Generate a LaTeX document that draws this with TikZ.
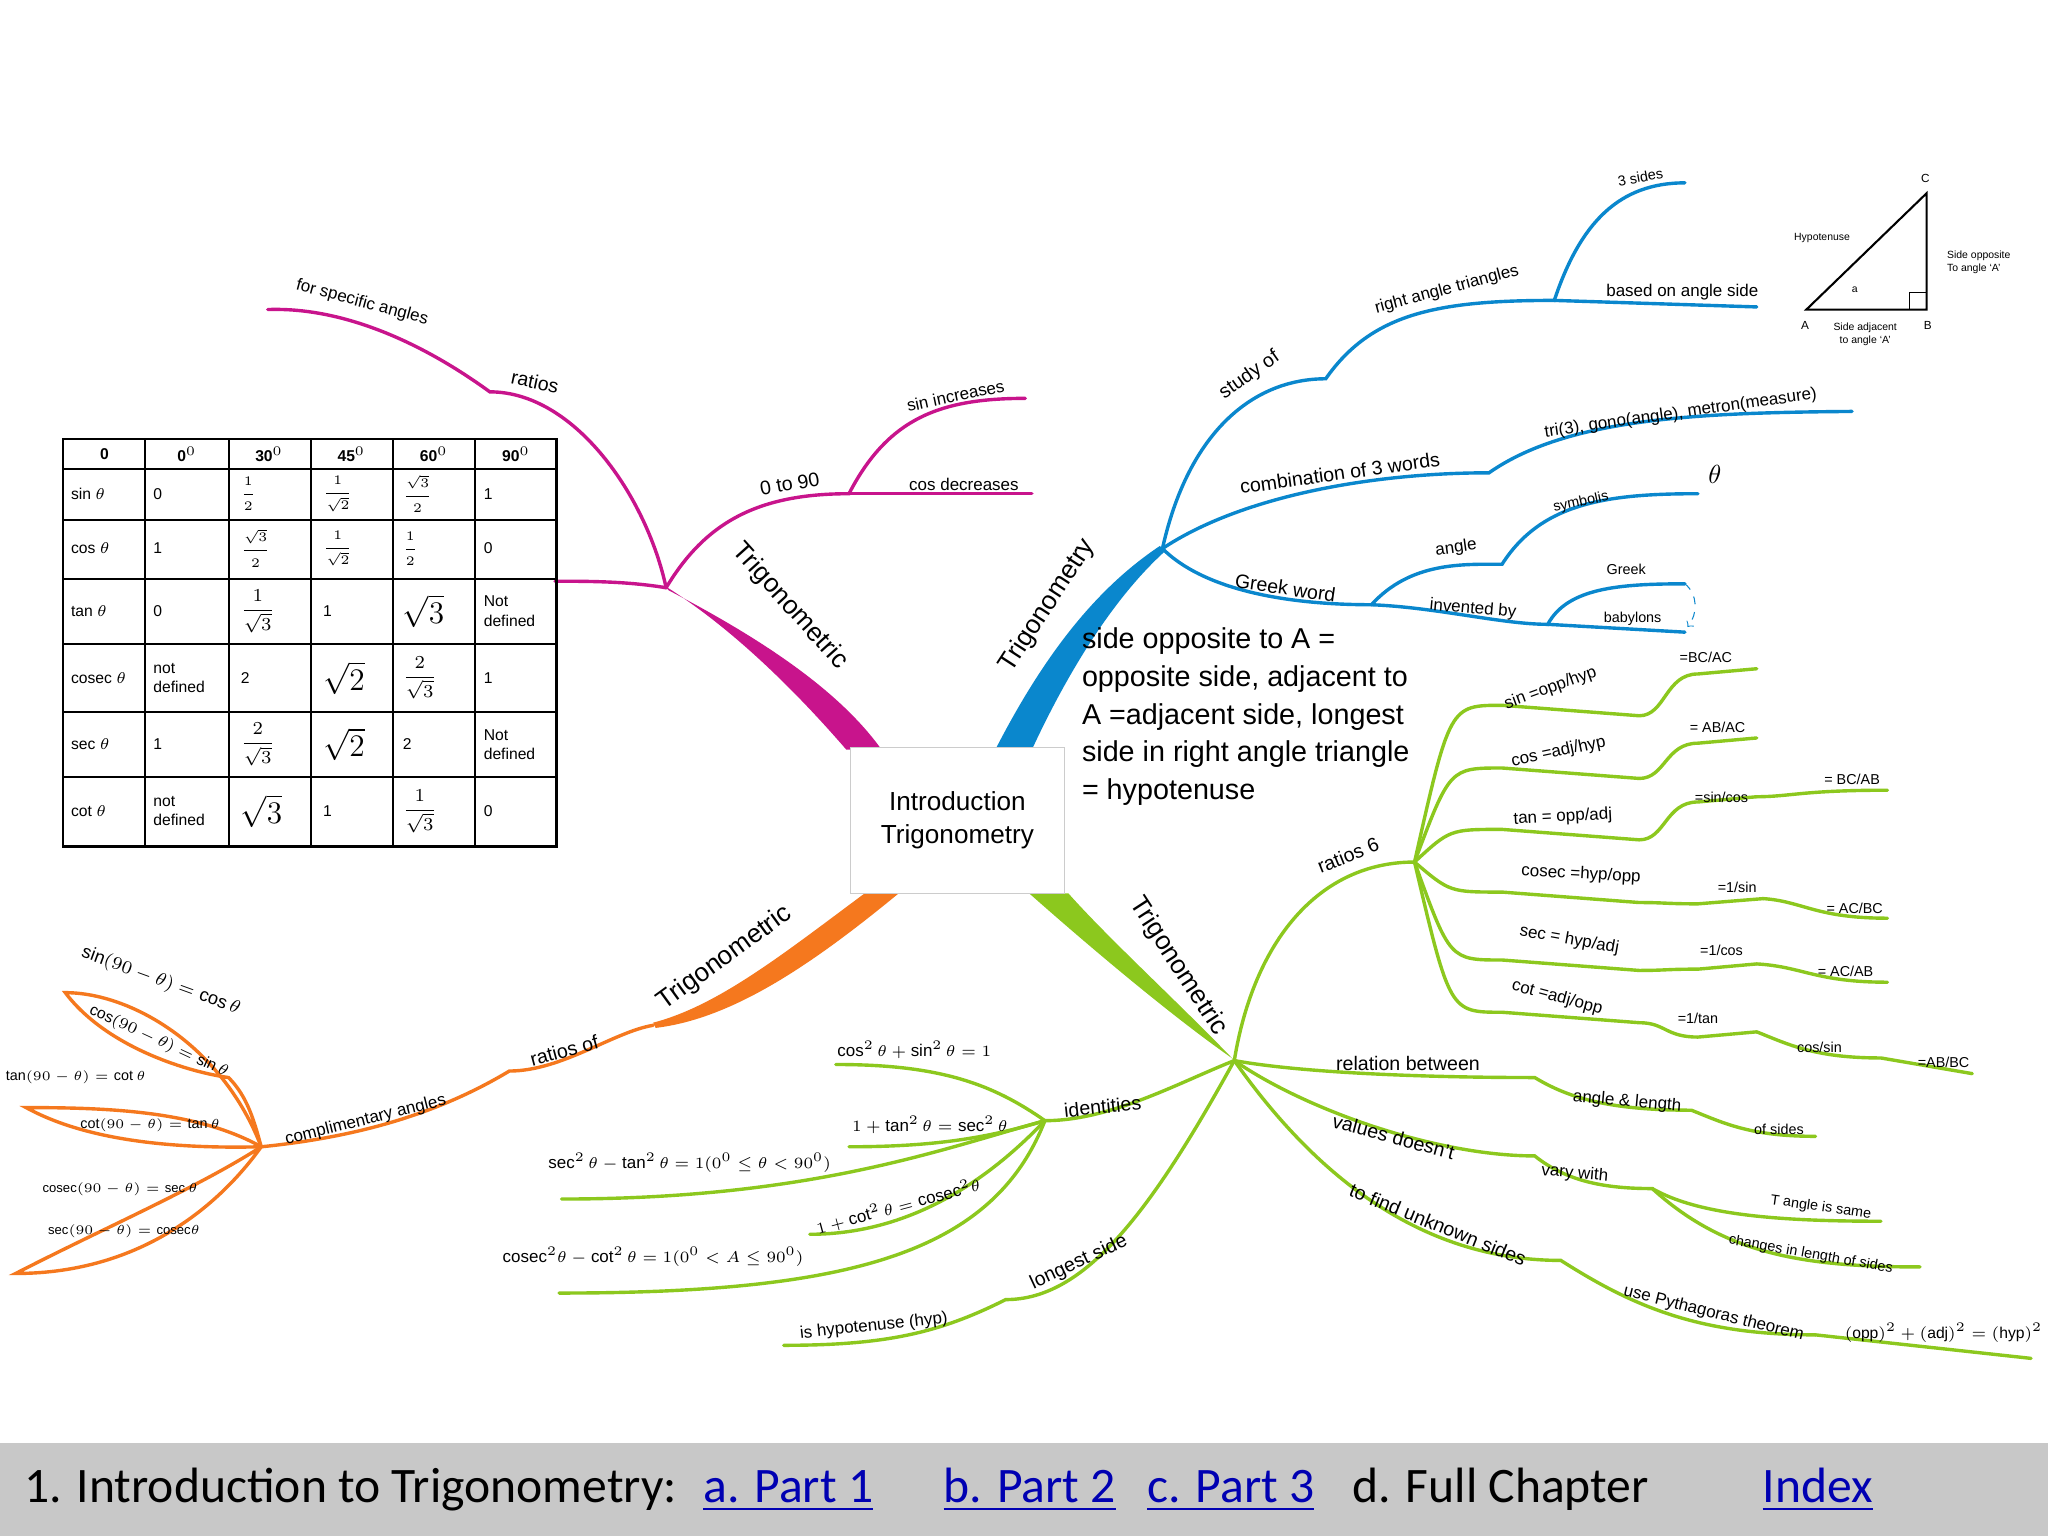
\documentclass[tikz,border=0pt]{standalone}
\usepackage{fontspec}
\setmainfont{Liberation Sans}
\newfontfamily\foot{Carlito}
\usepackage{amsmath}
\begin{document}
\begin{tikzpicture}[x=0.5pt,y=-0.5pt,
  lb/.style={font=\fontsize{7.5}{9}\selectfont,inner sep=1pt,anchor=south},
  sm/.style={font=\fontsize{5.5}{6.5}\selectfont,inner sep=1pt,anchor=south},
  tb/.style={font=\fontsize{6}{7}\selectfont,inner sep=1pt,anchor=west},
  br/.style={line width=1.3pt,line cap=round},
  lk/.style={text=blue!70!black}]
\definecolor{mag}{RGB}{200,20,140}
\definecolor{blu}{RGB}{10,135,205}
\definecolor{grn}{RGB}{140,200,30}
\definecolor{org}{RGB}{245,120,30}
\definecolor{gry}{RGB}{200,200,200}
\useasboundingbox (0,0) rectangle (1568,1176);
\fill[white] (0,0) rectangle (1568,1176);
\fill[gry] (0,1105) rectangle (1568,1176);
% ---------- magenta
\coordinate (M) at (510,450);
\fill[mag] (648,574) .. controls (610,530) and (560,480) .. (508,448) -- (512,452) .. controls (575,485) and (640,525) .. (675,574) -- cycle;
\node[lb,rotate=-48,font=\fontsize{10}{12}\selectfont] at (596,472) {Trigonometric};
\draw[br,mag] (M) .. controls (495,380) and (440,300) .. (375,300) .. controls (320,260) and (260,235) .. (205,237);
\node[lb,rotate=-12] (rat) at (408,300) {ratios};
\node[sm,rotate=-15,font=\fontsize{6.5}{8}\selectfont] (fsa) at (275,240) {for specific angles};
\draw[br,mag] (M) .. controls (540,400) and (580,378) .. (650,378) .. controls (680,320) and (720,305) .. (785,305);
\draw[br,mag] (650,378) -- (790,378);
\node[lb,rotate=10] at (606,378) {0 to 90};
\node[sm,rotate=12,font=\fontsize{6.5}{8}\selectfont] at (733,310) {sin increases};
\node[sm,font=\fontsize{6.5}{8}\selectfont] at (738,378) {cos decreases};
\draw[br,mag] (M) .. controls (480,445) and (450,445) .. (425,445);
% ---------- table
\draw[line width=0.9pt] (48,336) rectangle (426,648);
\foreach \x in {111,175,238,301,364} \draw[line width=0.8pt] (\x,336) -- (\x,648);
\foreach \y in {359,398,443,493,545,595} \draw[line width=0.8pt] (48,\y) -- (426,\y);
\foreach \c/\t in {80/0,143/0$^0$,206/30$^0$,269/45$^0$,332/60$^0$,395/90$^0$}
  \node[font=\fontsize{6}{7}\selectfont\bfseries] at (\c,348) {\t};
\def\fr#1#2{{\fontsize{5}{6}\selectfont$\dfrac{#1}{#2}$}}
\def\Fr#1#2{{\fontsize{7}{8}\selectfont$\dfrac{#1}{#2}$}}
\foreach \r/\a/\b/\c/\d/\e/\f in {
  378/sin $\theta$/0/\fr{1}{2}/\fr{1}{\sqrt2}/\fr{\sqrt3}{2}/1,
  420/cos $\theta$/1/\fr{\sqrt3}{2}/\fr{1}{\sqrt2}/\fr{1}{2}/0,
  468/tan $\theta$/0/\Fr{1}{\sqrt3}/1/{\large$\sqrt3$}/{\shortstack[l]{Not\\defined}},
  519/cosec $\theta$/{\shortstack[l]{not\\defined}}/2/{\large$\sqrt2$}/\Fr{2}{\sqrt3}/1,
  570/sec $\theta$/1/\Fr{2}{\sqrt3}/{\large$\sqrt2$}/2/{\shortstack[l]{Not\\defined}},
  621/cot $\theta$/{\shortstack[l]{not\\defined}}/{\large$\sqrt3$}/1/\Fr{1}{\sqrt3}/0}{
  \node[tb] at (52,\r) {\a};
  \node[tb] at (115,\r) {\b};
  \node[tb] at (182,\r) {\c};
  \node[tb] at (245,\r) {\d};
  \node[tb] at (306,\r) {\e};
  \node[tb] at (368,\r) {\f};
}
% ---------- blue
\coordinate (B) at (890,420);
\fill[blu] (762,574) .. controls (800,500) and (840,450) .. (888,418) -- (892,422) .. controls (850,460) and (815,520) .. (790,574) -- cycle;
\node[lb,rotate=57,font=\fontsize{10}{12}\selectfont] at (812,470) {Trigonometry};
\draw[br,blu] (B) .. controls (910,330) and (960,290) .. (1015,290) .. controls (1050,240) and (1100,230) .. (1190,230) .. controls (1210,170) and (1240,140) .. (1290,140);
\draw[br,blu] (1190,230) -- (1345,235);
\node[lb,rotate=35] at (962,295) {study of};
\node[sm,rotate=15,font=\fontsize{6.5}{8}\selectfont] at (1110,230) {right angle triangles};
\node[sm,rotate=10] at (1257,142) {3 sides};
\node[sm,font=\fontsize{6.5}{8}\selectfont] at (1288,232) {based on angle side};
\draw[br,blu] (B) .. controls (950,380) and (1050,362) .. (1140,362) .. controls (1200,320) and (1300,316) .. (1418,315);
\node[lb,rotate=8] at (1027,370) {combination of 3 words};
\node[sm,rotate=8,font=\fontsize{6.5}{8}\selectfont] at (1288,325) {tri(3), gono(angle), metron(measure)};
\draw[br,blu] (B) .. controls (920,450) and (980,463) .. (1050,463) .. controls (1080,430) and (1120,432) .. (1150,432) .. controls (1180,385) and (1230,378) .. (1300,378);
\draw[br,blu] (1050,463) .. controls (1100,465) and (1150,478) .. (1185,478) .. controls (1200,450) and (1240,447) .. (1290,447);
\draw[br,blu] (1185,478) -- (1290,484);
\node[lb,rotate=-8] at (983,458) {Greek word};
\node[sm,rotate=8,font=\fontsize{6.5}{8}\selectfont] at (1116,428) {angle};
\node[sm,rotate=12] at (1212,392) {symbolis};
\node[font=\fontsize{10}{12}\selectfont] at (1313,363) {$\theta$};
\node[sm,rotate=-5,font=\fontsize{6.5}{8}\selectfont] at (1127,475) {invented by};
\node[sm] at (1245,442) {Greek};
\node[sm] at (1250,481) {babylons};
\draw[blu,dashed,->] (1290,447) .. controls (1300,455) and (1300,470) .. (1292,480);
% triangle
\draw[line width=0.8pt] (1383,237) -- (1475,237) -- (1475,148) -- cycle;
\draw[line width=0.6pt] (1462,237) -- (1462,224) -- (1475,224);
\node[font=\fontsize{4}{5}\selectfont] at (1395,182) {Hypotenuse};
\node[font=\fontsize{4}{5}\selectfont,align=left] at (1515,201) {Side opposite\\To angle `A'};
\node[font=\fontsize{4}{5}\selectfont,align=center] at (1428,256) {Side adjacent\\to angle `A'};
\node[font=\fontsize{4.5}{5}\selectfont] at (1382,249) {A};
\node[font=\fontsize{4.5}{5}\selectfont] at (1476,249) {B};
\node[font=\fontsize{4.5}{5}\selectfont] at (1474,137) {C};
\node[font=\fontsize{4}{5}\selectfont] at (1420,222) {a};
\node[anchor=north west,align=left,inner sep=0pt,font=\fontsize{11}{14.5}\selectfont] at (828,480) {side opposite to A =\\opposite side, adjacent to\\A =adjacent side, longest\\side in right angle triangle\\= hypotenuse};
% ---------- green
\coordinate (G) at (945,812);
\fill[grn] (788,684) .. controls (840,730) and (900,780) .. (943,810) -- (947,814) .. controls (905,770) and (850,720) .. (818,684) -- cycle;
\node[lb,rotate=-57,font=\fontsize{10}{12}\selectfont] at (892,746) {Trigonometric};
\coordinate (R) at (1083,660);
\draw[br,grn] (G) .. controls (960,720) and (1010,660) .. (R);
\node[lb,rotate=22] at (1035,662) {ratios 6};
\foreach \y/\ya/\yb/\xa/\xb in {540/512/0/1345/0, 588/565/0/1345/0, 635/610/605/1345/1445, 683/688/703/1350/1445, 735/738/752/1345/1445, 775/790/810/1345/1440}{
  \draw[br,grn] (R) .. controls (1110,\y) and (1110,\y) .. (1150,\y) -- (1255,\y+8) .. controls (1275,\y+8) and (1275,\ya+4) .. (1300,\ya+4) -- (\xa,\ya);
}
\draw[br,grn] (1345,610) .. controls (1370,610) and (1380,605) .. (1445,605);
\draw[br,grn] (1350,688) .. controls (1380,690) and (1390,703) .. (1445,703);
\draw[br,grn] (1345,738) .. controls (1380,740) and (1390,752) .. (1445,752);
\draw[br,grn] (1345,790) .. controls (1370,800) and (1390,810) .. (1440,810) -- (1510,822);
\node[sm,rotate=20,font=\fontsize{6.5}{8}\selectfont] at (1190,535) {sin =opp/hyp};
\node[sm,rotate=12,font=\fontsize{6.5}{8}\selectfont] at (1195,584) {cos =adj/hyp};
\node[sm,rotate=3,font=\fontsize{6.5}{8}\selectfont] at (1197,634) {tan = opp/adj};
\node[sm,rotate=-3,font=\fontsize{6.5}{8}\selectfont] at (1210,678) {cosec =hyp/opp};
\node[sm,rotate=-10,font=\fontsize{6.5}{8}\selectfont] at (1200,728) {sec = hyp/adj};
\node[sm,rotate=-15,font=\fontsize{6.5}{8}\selectfont] at (1190,772) {cot =adj/opp};
\node[sm] at (1306,510) {=BC/AC};
\node[sm] at (1315,563) {= AB/AC};
\node[sm] at (1318,617) {=sin/cos};
\node[sm] at (1418,603) {= BC/AB};
\node[sm] at (1330,686) {=1/sin};
\node[sm] at (1420,702) {= AC/BC};
\node[sm] at (1318,734) {=1/cos};
\node[sm] at (1413,750) {= AC/AB};
\node[sm] at (1300,786) {=1/tan};
\node[sm] at (1393,808) {cos/sin};
\node[sm] at (1488,820) {=AB/BC};
\draw[br,grn] (G) .. controls (1000,822) and (1100,825) .. (1175,825) .. controls (1200,840) and (1230,850) .. (1295,850) .. controls (1320,860) and (1340,870) .. (1390,870);
\node[lb] at (1078,822) {relation between};
\node[sm,rotate=-5,font=\fontsize{6.5}{8}\selectfont] at (1245,852) {angle \& length};
\node[sm] at (1362,871) {of sides};
\draw[br,grn] (G) .. controls (1000,850) and (1100,885) .. (1175,885) .. controls (1200,905) and (1230,910) .. (1265,910) .. controls (1320,960) and (1380,970) .. (1470,970);
\draw[br,grn] (1265,910) .. controls (1300,930) and (1360,935) .. (1440,935);
\node[lb,rotate=-15] at (1065,878) {values doesn't};
\node[sm,rotate=-5,font=\fontsize{6.5}{8}\selectfont] at (1205,907) {vary with};
\node[sm,rotate=-8] at (1393,932) {T angle is same};
\node[sm,rotate=-10] at (1385,968) {changes in length of sides};
\draw[br,grn] (G) .. controls (1000,890) and (1080,965) .. (1195,965) .. controls (1250,1000) and (1300,1022) .. (1390,1022);
\draw[br,grn] (1390,1022) -- (1555,1040);
\node[lb,rotate=-22] at (1098,945) {to find unknown sides};
\node[sm,rotate=-14,font=\fontsize{6.5}{8}\selectfont] at (1310,1014) {use Pythagoras theorem};
\node[sm,font=\fontsize{6}{7}\selectfont] at (1488,1030) {$(\mathrm{opp})^2+(\mathrm{adj})^2=(\mathrm{hyp})^2$};
\coordinate (I) at (800,858);
\draw[br,grn] (G) .. controls (900,830) and (850,858) .. (I);
\node[lb,rotate=6] at (845,855) {identities};
\draw[br,grn] (I) .. controls (760,830) and (720,815) .. (640,815);
\draw[br,grn] (I) .. controls (760,870) and (720,878) .. (650,878);
\draw[br,grn] (I) .. controls (720,880) and (620,918) .. (430,918);
\draw[br,grn] (I) .. controls (760,900) and (700,945) .. (620,945);
\draw[br,grn] (I) .. controls (760,960) and (650,990) .. (428,990);
\node[sm,font=\fontsize{6.5}{8}\selectfont] at (700,813) {$\cos^2\theta+\sin^2\theta=1$};
\node[sm,font=\fontsize{6.5}{8}\selectfont] at (712,870) {$1+\tan^2\theta=\sec^2\theta$};
\node[sm,font=\fontsize{6.5}{8}\selectfont] at (528,900) {$\sec^2\theta-\tan^2\theta=1(0^0\le\theta<90^0)$};
\node[sm,rotate=15,font=\fontsize{6.5}{8}\selectfont] at (690,932) {$1+\cot^2\theta=\mathrm{cosec}^2\theta$};
\node[sm,font=\fontsize{6.5}{8}\selectfont] at (500,972) {$\mathrm{cosec}^2\theta-\cot^2\theta=1(0^0<A\le90^0)$};
\draw[br,grn] (G) .. controls (880,930) and (830,995) .. (770,995) .. controls (720,1020) and (680,1030) .. (600,1030);
\node[lb,rotate=25] at (830,975) {longest side};
\node[sm,rotate=6,font=\fontsize{6.5}{8}\selectfont] at (670,1024) {is hypotenuse (hyp)};
% ---------- orange
\fill[org] (662,684) .. controls (600,730) and (550,770) .. (500,783) -- (502,787) .. controls (560,780) and (620,740) .. (688,684) -- cycle;
\node[lb,rotate=36,font=\fontsize{10}{12}\selectfont] at (562,743) {Trigonometric};
\coordinate (O) at (200,878);
\draw[br,org] (500,785) .. controls (470,790) and (430,820) .. (390,820) .. controls (340,850) and (280,870) .. (O);
\node[lb,rotate=15] at (434,812) {ratios of};
\node[lb,rotate=14,font=\fontsize{6.5}{8}\selectfont] at (282,866) {complimentary angles};
\draw[br,org] (O) .. controls (170,800) and (100,760) .. (50,760) .. controls (80,800) and (140,820) .. (175,825) .. controls (190,840) and (195,860) .. (O);
\draw[br,org] (O) .. controls (150,850) and (80,848) .. (20,848) .. controls (60,870) and (120,880) .. (O);
\draw[br,org] (O) .. controls (170,920) and (110,975) .. (12,975) .. controls (80,940) and (150,910) .. (O);
\node[sm,rotate=-20,font=\fontsize{7}{8}\selectfont] at (120,760) {$\sin(90-\theta)=\cos\theta$};
\node[sm,rotate=-25,font=\fontsize{6}{7}\selectfont] at (118,805) {$\cos(90-\theta)=\sin\theta$};
\node[sm,font=\fontsize{5.5}{7}\selectfont] at (58,832) {$\tan(90-\theta)=\cot\theta$};
\node[sm,font=\fontsize{5.5}{7}\selectfont] at (115,869) {$\cot(90-\theta)=\tan\theta$};
\node[sm,font=\fontsize{5}{6}\selectfont] at (92,918) {$\mathrm{cosec}(90-\theta)=\sec\theta$};
\node[sm,font=\fontsize{5}{6}\selectfont] at (95,950) {$\sec(90-\theta)=\mathrm{cosec}\theta$};
% ---------- center
\node[draw=gray!40,fill=white,minimum width=82pt,minimum height=56pt,align=center,font=\fontsize{10}{13}\selectfont] (C) at (733,628) {Introduction\\Trigonometry};
% ---------- footer
\begin{scope}[every node/.style={anchor=base west,inner sep=0pt,font=\foot\fontsize{19}{22}\selectfont}]
\node at (18,1150) {1. Introduction to Trigonometry:};
\node[lk] at (538,1150) {\underline{a. Part 1}};
\node[lk] at (722,1150) {\underline{b. Part 2}};
\node[lk] at (878,1150) {\underline{c. Part 3}};
\node at (1035,1150) {d. Full Chapter};
\node[lk] at (1349,1150) {\underline{Index}};
\end{scope}
\end{tikzpicture}
\end{document}
